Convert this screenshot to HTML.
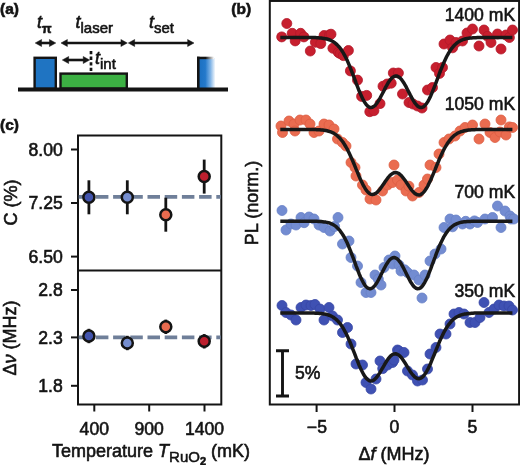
<!DOCTYPE html><html><head><meta charset="utf-8"><title>figure</title><style>html,body{margin:0;padding:0;background:#fff}svg{display:block}text{font-family:"Liberation Sans",sans-serif;fill:#141414;stroke:#141414;stroke-width:0.6px}</style></head><body>
<svg width="520" height="465" viewBox="0 0 520 465">
<defs><linearGradient id="fade" x1="0" x2="1" y1="0" y2="0"><stop offset="0" stop-color="#1b6fc0"/><stop offset="0.4" stop-color="#2479cb"/><stop offset="0.7" stop-color="#7fb3e6"/><stop offset="1" stop-color="#ffffff"/></linearGradient><linearGradient id="fadek" x1="0" x2="1" y1="0" y2="0"><stop offset="0" stop-color="#141414"/><stop offset="0.5" stop-color="#141414"/><stop offset="1" stop-color="#fff"/></linearGradient></defs>
<rect width="520" height="465" fill="#fff"/>
<g id="pa">
<text x="0" y="13.5" font-size="15.5" font-weight="bold" stroke-width="0.2">(a)</text>
<rect x="34.6" y="57.8" width="21.2" height="31" fill="#1f74c2" stroke="#141414" stroke-width="2.4"/>
<rect x="60.5" y="73.6" width="66.3" height="15" fill="#3cb043" stroke="#141414" stroke-width="2.4"/>
<rect x="198.5" y="58" width="17" height="30" fill="url(#fade)"/>
<rect x="197" y="56.7" width="2.6" height="31.5" fill="#141414"/>
<rect x="197" y="56.7" width="17" height="2.5" fill="url(#fadek)"/>
<rect x="18" y="87.5" width="210" height="4" fill="#141414"/>
<line x1="39.040000000000006" y1="43" x2="51.959999999999994" y2="43" stroke="#141414" stroke-width="2.6"/>
<path d="M35.2,43 L41.6,39.5 L41.408,43 L41.6,46.5 Z M55.8,43 L49.4,39.5 L49.592,43 L49.4,46.5 Z" fill="#141414" stroke="#141414" stroke-width="0.5" stroke-linejoin="round"/>
<line x1="64.84" y1="43" x2="123.46" y2="43" stroke="#141414" stroke-width="2.6"/>
<path d="M61,43 L67.4,39.5 L67.208,43 L67.4,46.5 Z M127.3,43 L120.89999999999999,39.5 L121.092,43 L120.89999999999999,46.5 Z" fill="#141414" stroke="#141414" stroke-width="0.5" stroke-linejoin="round"/>
<line x1="132.14000000000001" y1="43" x2="190.16" y2="43" stroke="#141414" stroke-width="2.6"/>
<path d="M128.3,43 L134.70000000000002,39.5 L134.508,43 L134.70000000000002,46.5 Z M194,43 L187.6,39.5 L187.792,43 L187.6,46.5 Z" fill="#141414" stroke="#141414" stroke-width="0.5" stroke-linejoin="round"/>
<line x1="66.14" y1="60" x2="85.75999999999999" y2="60" stroke="#141414" stroke-width="2.6"/>
<path d="M62.3,60 L68.7,56.5 L68.508,60 L68.7,63.5 Z M89.6,60 L83.19999999999999,56.5 L83.392,60 L83.19999999999999,63.5 Z" fill="#141414" stroke="#141414" stroke-width="0.5" stroke-linejoin="round"/>
<line x1="91" y1="51" x2="91" y2="72.5" stroke="#141414" stroke-width="2.7" stroke-dasharray="3.3,2.3"/>
<text x="37" y="28" font-size="18"><tspan font-style="italic">t</tspan><tspan font-size="15" dy="5"><tspan font-weight="bold" font-size="12.5">π</tspan></tspan></text>
<text x="75.5" y="28" font-size="18"><tspan font-style="italic">t</tspan><tspan font-size="15" dy="5">laser</tspan></text>
<text x="149" y="28" font-size="18"><tspan font-style="italic">t</tspan><tspan font-size="15" dy="5">set</tspan></text>
<text x="95" y="64" font-size="18"><tspan font-style="italic">t</tspan><tspan font-size="15" dy="5">int</tspan></text>
</g>
<g id="pc">
<text x="0" y="129.5" font-size="15.5" font-weight="bold" stroke-width="0.2">(c)</text>
<rect x="78" y="135.5" width="143.3" height="269.0" fill="none" stroke="#141414" stroke-width="2.0"/>
<line x1="78" x2="221.3" y1="270.5" y2="270.5" stroke="#141414" stroke-width="2.0"/>
<line x1="71" x2="78" y1="149.5" y2="149.5" stroke="#141414" stroke-width="2.0"/>
<text x="62.8" y="155.7" font-size="17.6" text-anchor="end">8.00</text>
<line x1="71" x2="78" y1="203" y2="203" stroke="#141414" stroke-width="2.0"/>
<text x="62.8" y="209.2" font-size="17.6" text-anchor="end">7.25</text>
<line x1="71" x2="78" y1="256.6" y2="256.6" stroke="#141414" stroke-width="2.0"/>
<text x="62.8" y="262.8" font-size="17.6" text-anchor="end">6.50</text>
<line x1="71" x2="78" y1="290" y2="290" stroke="#141414" stroke-width="2.0"/>
<text x="62.8" y="296.2" font-size="17.6" text-anchor="end">2.8</text>
<line x1="71" x2="78" y1="337.4" y2="337.4" stroke="#141414" stroke-width="2.0"/>
<text x="62.8" y="343.59999999999997" font-size="17.6" text-anchor="end">2.3</text>
<line x1="71" x2="78" y1="385.8" y2="385.8" stroke="#141414" stroke-width="2.0"/>
<text x="62.8" y="392.0" font-size="17.6" text-anchor="end">1.8</text>
<line x1="94.3" x2="94.3" y1="404.5" y2="411.5" stroke="#141414" stroke-width="2.0"/>
<text x="94.3" y="434.5" font-size="17.6" text-anchor="middle">400</text>
<line x1="149.2" x2="149.2" y1="404.5" y2="411.5" stroke="#141414" stroke-width="2.0"/>
<text x="149.2" y="434.5" font-size="17.6" text-anchor="middle">900</text>
<line x1="204.5" x2="204.5" y1="404.5" y2="411.5" stroke="#141414" stroke-width="2.0"/>
<text x="204.5" y="434.5" font-size="17.6" text-anchor="middle">1400</text>
<line x1="78.7" x2="220.8" y1="196.8" y2="196.8" stroke="#6f7f99" stroke-width="3.7" stroke-dasharray="12.5,4.7"/>
<line x1="78.7" x2="220.8" y1="337.4" y2="337.4" stroke="#6f7f99" stroke-width="3.7" stroke-dasharray="12.5,4.7"/>
<line x1="88.9" x2="88.9" y1="180.3" y2="214.3" stroke="#141414" stroke-width="2.8"/>
<circle cx="88.9" cy="197.3" r="5.5" fill="#4254ad" stroke="#141414" stroke-width="2.5"/>
<line x1="127.3" x2="127.3" y1="180.3" y2="214.3" stroke="#141414" stroke-width="2.8"/>
<circle cx="127.3" cy="197.3" r="5.5" fill="#768ecf" stroke="#141414" stroke-width="2.5"/>
<line x1="165.8" x2="165.8" y1="197.7" y2="231.7" stroke="#141414" stroke-width="2.8"/>
<circle cx="165.8" cy="214.7" r="5.5" fill="#e96b4f" stroke="#141414" stroke-width="2.5"/>
<line x1="204.2" x2="204.2" y1="159.6" y2="193.6" stroke="#141414" stroke-width="2.8"/>
<circle cx="204.2" cy="176.6" r="5.5" fill="#bd1f2e" stroke="#141414" stroke-width="2.5"/>
<line x1="88.9" x2="88.9" y1="328.8" y2="343.2" stroke="#141414" stroke-width="2.8"/>
<circle cx="88.9" cy="336" r="5.5" fill="#4254ad" stroke="#141414" stroke-width="2.5"/>
<line x1="127.3" x2="127.3" y1="335.8" y2="350.2" stroke="#141414" stroke-width="2.8"/>
<circle cx="127.3" cy="343" r="5.5" fill="#768ecf" stroke="#141414" stroke-width="2.5"/>
<line x1="165.8" x2="165.8" y1="319.6" y2="334.0" stroke="#141414" stroke-width="2.8"/>
<circle cx="165.8" cy="326.8" r="5.5" fill="#e96b4f" stroke="#141414" stroke-width="2.5"/>
<line x1="204.2" x2="204.2" y1="334.1" y2="348.5" stroke="#141414" stroke-width="2.8"/>
<circle cx="204.2" cy="341.3" r="5.5" fill="#bd1f2e" stroke="#141414" stroke-width="2.5"/>
<text transform="translate(17,202.6) rotate(-90)" font-size="18" text-anchor="middle">C (%)</text>
<text transform="translate(16,338) rotate(-90)" font-size="18" text-anchor="middle">Δ<tspan font-style="italic">ν</tspan> (MHz)</text>
<text x="52" y="457" font-size="18">Temperature <tspan font-style="italic">T</tspan><tspan font-size="15" dy="5" stroke-width="0.5">RuO</tspan><tspan font-size="11" dy="3" font-weight="bold">2</tspan><tspan dy="-8" font-size="18"> (mK)</tspan></text>
</g>
<g id="pb">
<text x="231.3" y="13.5" font-size="15.5" font-weight="bold" stroke-width="0.2">(b)</text>
<g fill="#c71f2e" stroke="#b3182a" stroke-width="0.8">
<circle cx="281.7" cy="36.9" r="5"/>
<circle cx="286.8" cy="23.5" r="5"/>
<circle cx="292.2" cy="33.3" r="5"/>
<circle cx="295.2" cy="40.9" r="5"/>
<circle cx="300.6" cy="33.3" r="5"/>
<circle cx="303.9" cy="36.9" r="5"/>
<circle cx="310.3" cy="51.0" r="5"/>
<circle cx="315.4" cy="42.3" r="5"/>
<circle cx="320.8" cy="43.6" r="5"/>
<circle cx="324.1" cy="35.5" r="5"/>
<circle cx="329.5" cy="34.9" r="5"/>
<circle cx="331.0" cy="34.2" r="5"/>
<circle cx="332.9" cy="48.3" r="5"/>
<circle cx="338.3" cy="52.4" r="5"/>
<circle cx="340.2" cy="53.6" r="5"/>
<circle cx="343.4" cy="55.6" r="5"/>
<circle cx="348.4" cy="50.5" r="5"/>
<circle cx="350.4" cy="70.9" r="5"/>
<circle cx="357.5" cy="80.1" r="5"/>
<circle cx="361.6" cy="96.4" r="5"/>
<circle cx="366.7" cy="95.4" r="5"/>
<circle cx="369.8" cy="111.7" r="5"/>
<circle cx="373.9" cy="110.7" r="5"/>
<circle cx="380.0" cy="103.6" r="5"/>
<circle cx="383.0" cy="86.2" r="5"/>
<circle cx="387.1" cy="84.0" r="5"/>
<circle cx="391.2" cy="83.2" r="5"/>
<circle cx="393.3" cy="73.0" r="5"/>
<circle cx="398.4" cy="73.0" r="5"/>
<circle cx="402.5" cy="94.0" r="5"/>
<circle cx="409.0" cy="102.5" r="5"/>
<circle cx="413.0" cy="104.0" r="5"/>
<circle cx="417.5" cy="106.0" r="5"/>
<circle cx="422.0" cy="108.0" r="5"/>
<circle cx="427.5" cy="90.0" r="5"/>
<circle cx="432.5" cy="87.5" r="5"/>
<circle cx="436.0" cy="67.5" r="5"/>
<circle cx="439.5" cy="73.4" r="5"/>
<circle cx="442.5" cy="67.5" r="5"/>
<circle cx="444.0" cy="44.0" r="5"/>
<circle cx="450.0" cy="40.0" r="5"/>
<circle cx="452.6" cy="47.8" r="5"/>
<circle cx="456.0" cy="42.5" r="5"/>
<circle cx="462.5" cy="41.0" r="5"/>
<circle cx="467.0" cy="33.0" r="5"/>
<circle cx="472.5" cy="29.0" r="5"/>
<circle cx="479.0" cy="46.0" r="5"/>
<circle cx="484.0" cy="30.0" r="5"/>
<circle cx="487.6" cy="36.3" r="5"/>
<circle cx="491.0" cy="42.5" r="5"/>
<circle cx="497.5" cy="34.0" r="5"/>
<circle cx="501.0" cy="49.0" r="5"/>
<circle cx="506.0" cy="35.0" r="5"/>
<circle cx="509.4" cy="37.5" r="5"/>
<circle cx="512.5" cy="30.0" r="5"/>
</g>
<path d="M280.3,37.5 L281.8,37.5 L283.2,37.5 L284.7,37.5 L286.1,37.5 L287.6,37.5 L289.1,37.5 L290.5,37.5 L292.0,37.5 L293.4,37.5 L294.9,37.5 L296.4,37.5 L297.8,37.5 L299.3,37.5 L300.7,37.5 L302.2,37.5 L303.7,37.5 L305.1,37.5 L306.6,37.5 L308.0,37.5 L309.5,37.5 L311.0,37.6 L312.4,37.6 L313.9,37.6 L315.3,37.6 L316.8,37.7 L318.3,37.8 L319.7,37.9 L321.2,38.0 L322.6,38.2 L324.1,38.4 L325.6,38.7 L327.0,39.0 L328.5,39.5 L329.9,40.0 L331.4,40.7 L332.9,41.5 L334.3,42.4 L335.8,43.6 L337.2,44.9 L338.7,46.5 L340.2,48.2 L341.6,50.3 L343.1,52.6 L344.5,55.2 L346.0,58.0 L347.5,61.1 L348.9,64.4 L350.4,68.0 L351.8,71.7 L353.3,75.5 L354.8,79.4 L356.2,83.3 L357.7,87.1 L359.1,90.8 L360.6,94.3 L362.1,97.5 L363.5,100.4 L365.0,102.8 L366.4,104.8 L367.9,106.3 L369.4,107.2 L370.8,107.5 L372.3,107.3 L373.7,106.5 L375.2,105.3 L376.7,103.5 L378.1,101.4 L379.6,99.0 L381.0,96.3 L382.5,93.5 L384.0,90.6 L385.4,87.7 L386.9,85.1 L388.3,82.6 L389.8,80.4 L391.3,78.6 L392.7,77.3 L394.2,76.4 L395.6,76.0 L397.1,76.1 L398.6,76.8 L400.0,77.9 L401.5,79.5 L402.9,81.5 L404.4,83.8 L405.9,86.4 L407.3,89.2 L408.8,92.1 L410.2,94.9 L411.7,97.7 L413.2,100.3 L414.6,102.6 L416.1,104.5 L417.5,106.0 L419.0,107.0 L420.5,107.5 L421.9,107.4 L423.4,106.8 L424.8,105.6 L426.3,103.9 L427.8,101.6 L429.2,99.0 L430.7,95.9 L432.1,92.6 L433.6,88.9 L435.1,85.2 L436.5,81.3 L438.0,77.4 L439.4,73.5 L440.9,69.7 L442.4,66.1 L443.8,62.7 L445.3,59.5 L446.7,56.5 L448.2,53.8 L449.7,51.4 L451.1,49.2 L452.6,47.3 L454.0,45.6 L455.5,44.2 L457.0,42.9 L458.4,41.9 L459.9,41.0 L461.3,40.3 L462.8,39.7 L464.3,39.2 L465.7,38.8 L467.2,38.5 L468.6,38.3 L470.1,38.1 L471.6,37.9 L473.0,37.8 L474.5,37.7 L475.9,37.7 L477.4,37.6 L478.9,37.6 L480.3,37.6 L481.8,37.5 L483.2,37.5 L484.7,37.5 L486.2,37.5 L487.6,37.5 L489.1,37.5 L490.5,37.5 L492.0,37.5 L493.5,37.5 L494.9,37.5 L496.4,37.5 L497.8,37.5 L499.3,37.5 L500.8,37.5 L502.2,37.5 L503.7,37.5 L505.1,37.5 L506.6,37.5 L508.1,37.5 L509.5,37.5 L511.0,37.5 L512.4,37.5" fill="none" stroke="#181818" stroke-width="3.5" stroke-linecap="butt" stroke-linejoin="round"/>
<text x="515.2" y="21.3" font-size="17.6" text-anchor="end">1400 mK</text>
<g fill="#ea6c50" stroke="#dc5d43" stroke-width="0.8">
<circle cx="281.0" cy="126.0" r="5"/>
<circle cx="282.5" cy="132.5" r="5"/>
<circle cx="289.0" cy="121.0" r="5"/>
<circle cx="294.0" cy="124.0" r="5"/>
<circle cx="295.0" cy="131.0" r="5"/>
<circle cx="300.0" cy="120.0" r="5"/>
<circle cx="306.0" cy="120.0" r="5"/>
<circle cx="310.0" cy="124.0" r="5"/>
<circle cx="314.0" cy="132.5" r="5"/>
<circle cx="319.0" cy="131.0" r="5"/>
<circle cx="324.0" cy="124.0" r="5"/>
<circle cx="329.0" cy="125.0" r="5"/>
<circle cx="334.0" cy="129.0" r="5"/>
<circle cx="337.5" cy="139.0" r="5"/>
<circle cx="342.5" cy="142.5" r="5"/>
<circle cx="346.0" cy="146.0" r="5"/>
<circle cx="351.0" cy="162.5" r="5"/>
<circle cx="355.0" cy="167.5" r="5"/>
<circle cx="356.0" cy="176.0" r="5"/>
<circle cx="362.5" cy="185.0" r="5"/>
<circle cx="366.0" cy="190.0" r="5"/>
<circle cx="370.0" cy="199.0" r="5"/>
<circle cx="376.0" cy="200.0" r="5"/>
<circle cx="382.5" cy="191.0" r="5"/>
<circle cx="387.5" cy="185.0" r="5"/>
<circle cx="392.5" cy="182.5" r="5"/>
<circle cx="394.0" cy="165.0" r="5"/>
<circle cx="397.5" cy="180.0" r="5"/>
<circle cx="401.0" cy="185.0" r="5"/>
<circle cx="406.0" cy="191.0" r="5"/>
<circle cx="408.9" cy="186.2" r="5"/>
<circle cx="412.5" cy="196.0" r="5"/>
<circle cx="419.0" cy="192.5" r="5"/>
<circle cx="424.0" cy="185.0" r="5"/>
<circle cx="427.5" cy="179.0" r="5"/>
<circle cx="430.0" cy="165.0" r="5"/>
<circle cx="436.0" cy="167.5" r="5"/>
<circle cx="439.0" cy="154.0" r="5"/>
<circle cx="444.0" cy="142.5" r="5"/>
<circle cx="449.0" cy="139.0" r="5"/>
<circle cx="455.0" cy="136.0" r="5"/>
<circle cx="460.0" cy="131.0" r="5"/>
<circle cx="465.0" cy="127.5" r="5"/>
<circle cx="472.5" cy="125.0" r="5"/>
<circle cx="479.0" cy="139.0" r="5"/>
<circle cx="485.0" cy="124.0" r="5"/>
<circle cx="490.0" cy="132.5" r="5"/>
<circle cx="495.0" cy="137.5" r="5"/>
<circle cx="500.0" cy="132.0" r="5"/>
<circle cx="501.0" cy="120.0" r="5"/>
<circle cx="506.0" cy="135.0" r="5"/>
<circle cx="509.4" cy="126.9" r="5"/>
<circle cx="512.5" cy="127.5" r="5"/>
</g>
<path d="M280.3,129.5 L281.8,129.5 L283.2,129.5 L284.7,129.5 L286.1,129.5 L287.6,129.5 L289.1,129.5 L290.5,129.5 L292.0,129.5 L293.4,129.5 L294.9,129.5 L296.4,129.5 L297.8,129.5 L299.3,129.5 L300.7,129.5 L302.2,129.5 L303.7,129.5 L305.1,129.5 L306.6,129.5 L308.0,129.5 L309.5,129.5 L311.0,129.5 L312.4,129.6 L313.9,129.6 L315.3,129.6 L316.8,129.7 L318.3,129.7 L319.7,129.8 L321.2,129.9 L322.6,130.1 L324.1,130.3 L325.6,130.5 L327.0,130.8 L328.5,131.2 L329.9,131.6 L331.4,132.2 L332.9,132.8 L334.3,133.6 L335.8,134.6 L337.2,135.7 L338.7,137.1 L340.2,138.6 L341.6,140.3 L343.1,142.3 L344.5,144.5 L346.0,147.0 L347.5,149.7 L348.9,152.6 L350.4,155.7 L351.8,158.9 L353.3,162.3 L354.8,165.9 L356.2,169.4 L357.7,172.9 L359.1,176.4 L360.6,179.7 L362.1,182.8 L363.5,185.7 L365.0,188.2 L366.4,190.4 L367.9,192.1 L369.4,193.4 L370.8,194.2 L372.3,194.5 L373.7,194.3 L375.2,193.7 L376.7,192.7 L378.1,191.3 L379.6,189.6 L381.0,187.7 L382.5,185.6 L384.0,183.4 L385.4,181.3 L386.9,179.2 L388.3,177.3 L389.8,175.6 L391.3,174.3 L392.7,173.3 L394.2,172.7 L395.6,172.5 L397.1,172.8 L398.6,173.4 L400.0,174.5 L401.5,175.9 L402.9,177.6 L404.4,179.5 L405.9,181.6 L407.3,183.8 L408.8,186.0 L410.2,188.1 L411.7,190.1 L413.2,191.8 L414.6,193.2 L416.1,194.2 L417.5,194.8 L419.0,195.0 L420.5,194.7 L421.9,193.8 L423.4,192.5 L424.8,190.8 L426.3,188.6 L427.8,186.0 L429.2,183.1 L430.7,180.0 L432.1,176.6 L433.6,173.1 L435.1,169.6 L436.5,166.0 L438.0,162.5 L439.4,159.0 L440.9,155.8 L442.4,152.6 L443.8,149.7 L445.3,147.0 L446.7,144.6 L448.2,142.3 L449.7,140.4 L451.1,138.6 L452.6,137.1 L454.0,135.7 L455.5,134.6 L457.0,133.6 L458.4,132.8 L459.9,132.2 L461.3,131.6 L462.8,131.2 L464.3,130.8 L465.7,130.5 L467.2,130.3 L468.6,130.1 L470.1,129.9 L471.6,129.8 L473.0,129.7 L474.5,129.7 L475.9,129.6 L477.4,129.6 L478.9,129.6 L480.3,129.5 L481.8,129.5 L483.2,129.5 L484.7,129.5 L486.2,129.5 L487.6,129.5 L489.1,129.5 L490.5,129.5 L492.0,129.5 L493.5,129.5 L494.9,129.5 L496.4,129.5 L497.8,129.5 L499.3,129.5 L500.8,129.5 L502.2,129.5 L503.7,129.5 L505.1,129.5 L506.6,129.5 L508.1,129.5 L509.5,129.5 L511.0,129.5 L512.4,129.5" fill="none" stroke="#181818" stroke-width="3.5" stroke-linecap="butt" stroke-linejoin="round"/>
<text x="515.2" y="110" font-size="17.6" text-anchor="end">1050 mK</text>
<g fill="#738cd1" stroke="#6780c6" stroke-width="0.8">
<circle cx="282.0" cy="210.5" r="5"/>
<circle cx="286.0" cy="230.0" r="5"/>
<circle cx="291.0" cy="224.0" r="5"/>
<circle cx="296.0" cy="225.0" r="5"/>
<circle cx="301.0" cy="217.5" r="5"/>
<circle cx="304.1" cy="222.7" r="5"/>
<circle cx="309.0" cy="217.0" r="5"/>
<circle cx="314.0" cy="219.0" r="5"/>
<circle cx="319.0" cy="225.0" r="5"/>
<circle cx="324.0" cy="227.5" r="5"/>
<circle cx="330.0" cy="231.0" r="5"/>
<circle cx="334.6" cy="226.5" r="5"/>
<circle cx="338.0" cy="217.5" r="5"/>
<circle cx="342.5" cy="244.0" r="5"/>
<circle cx="349.0" cy="241.0" r="5"/>
<circle cx="351.0" cy="257.5" r="5"/>
<circle cx="357.5" cy="266.0" r="5"/>
<circle cx="361.0" cy="282.5" r="5"/>
<circle cx="366.0" cy="292.5" r="5"/>
<circle cx="371.0" cy="292.5" r="5"/>
<circle cx="375.0" cy="275.0" r="5"/>
<circle cx="378.3" cy="279.1" r="5"/>
<circle cx="381.0" cy="285.0" r="5"/>
<circle cx="384.0" cy="267.5" r="5"/>
<circle cx="389.0" cy="260.0" r="5"/>
<circle cx="392.5" cy="264.0" r="5"/>
<circle cx="395.0" cy="256.0" r="5"/>
<circle cx="399.0" cy="265.0" r="5"/>
<circle cx="401.0" cy="271.0" r="5"/>
<circle cx="404.6" cy="269.8" r="5"/>
<circle cx="407.5" cy="272.5" r="5"/>
<circle cx="414.0" cy="275.0" r="5"/>
<circle cx="419.0" cy="280.0" r="5"/>
<circle cx="422.0" cy="298.0" r="5"/>
<circle cx="425.0" cy="275.0" r="5"/>
<circle cx="430.0" cy="261.0" r="5"/>
<circle cx="435.0" cy="254.0" r="5"/>
<circle cx="441.0" cy="249.0" r="5"/>
<circle cx="444.0" cy="227.5" r="5"/>
<circle cx="450.0" cy="219.0" r="5"/>
<circle cx="452.6" cy="226.8" r="5"/>
<circle cx="456.0" cy="220.0" r="5"/>
<circle cx="462.5" cy="224.0" r="5"/>
<circle cx="465.7" cy="221.3" r="5"/>
<circle cx="470.0" cy="224.0" r="5"/>
<circle cx="474.5" cy="220.9" r="5"/>
<circle cx="477.5" cy="222.5" r="5"/>
<circle cx="485.0" cy="219.0" r="5"/>
<circle cx="492.5" cy="217.5" r="5"/>
<circle cx="497.5" cy="206.0" r="5"/>
<circle cx="501.0" cy="227.5" r="5"/>
<circle cx="505.0" cy="211.0" r="5"/>
<circle cx="510.0" cy="216.0" r="5"/>
<circle cx="511.0" cy="219.0" r="5"/>
<circle cx="513.8" cy="219.0" r="5"/>
</g>
<path d="M280.3,221.2 L281.8,221.2 L283.2,221.2 L284.7,221.2 L286.1,221.2 L287.6,221.2 L289.1,221.2 L290.5,221.2 L292.0,221.2 L293.4,221.2 L294.9,221.2 L296.4,221.2 L297.8,221.2 L299.3,221.2 L300.7,221.2 L302.2,221.2 L303.7,221.2 L305.1,221.2 L306.6,221.2 L308.0,221.2 L309.5,221.2 L311.0,221.2 L312.4,221.2 L313.9,221.3 L315.3,221.3 L316.8,221.3 L318.3,221.4 L319.7,221.5 L321.2,221.6 L322.6,221.7 L324.1,221.9 L325.6,222.1 L327.0,222.4 L328.5,222.7 L329.9,223.2 L331.4,223.8 L332.9,224.5 L334.3,225.4 L335.8,226.4 L337.2,227.7 L338.7,229.2 L340.2,230.9 L341.6,232.9 L343.1,235.2 L344.5,237.7 L346.0,240.5 L347.5,243.6 L348.9,247.0 L350.4,250.6 L351.8,254.3 L353.3,258.2 L354.8,262.2 L356.2,266.1 L357.7,270.0 L359.1,273.7 L360.6,277.2 L362.1,280.3 L363.5,283.0 L365.0,285.3 L366.4,287.0 L367.9,288.2 L369.4,288.7 L370.8,288.7 L372.3,288.0 L373.7,286.8 L375.2,285.1 L376.7,283.0 L378.1,280.5 L379.6,277.7 L381.0,274.8 L382.5,271.8 L384.0,268.9 L385.4,266.2 L386.9,263.7 L388.3,261.5 L389.8,259.7 L391.3,258.5 L392.7,257.7 L394.2,257.5 L395.6,257.9 L397.1,258.8 L398.6,260.2 L400.0,262.1 L401.5,264.3 L402.9,266.9 L404.4,269.8 L405.9,272.7 L407.3,275.7 L408.8,278.5 L410.2,281.2 L411.7,283.6 L413.2,285.7 L414.6,287.2 L416.1,288.3 L417.5,288.7 L419.0,288.6 L420.5,287.9 L421.9,286.6 L423.4,284.7 L424.8,282.3 L426.3,279.4 L427.8,276.2 L429.2,272.7 L430.7,268.9 L432.1,265.0 L433.6,261.0 L435.1,257.1 L436.5,253.2 L438.0,249.5 L439.4,246.0 L440.9,242.7 L442.4,239.7 L443.8,236.9 L445.3,234.5 L446.7,232.3 L448.2,230.4 L449.7,228.7 L451.1,227.3 L452.6,226.1 L454.0,225.1 L455.5,224.3 L457.0,223.6 L458.4,223.1 L459.9,222.6 L461.3,222.3 L462.8,222.0 L464.3,221.8 L465.7,221.7 L467.2,221.5 L468.6,221.4 L470.1,221.4 L471.6,221.3 L473.0,221.3 L474.5,221.3 L475.9,221.2 L477.4,221.2 L478.9,221.2 L480.3,221.2 L481.8,221.2 L483.2,221.2 L484.7,221.2 L486.2,221.2 L487.6,221.2 L489.1,221.2 L490.5,221.2 L492.0,221.2 L493.5,221.2 L494.9,221.2 L496.4,221.2 L497.8,221.2 L499.3,221.2 L500.8,221.2 L502.2,221.2 L503.7,221.2 L505.1,221.2 L506.6,221.2 L508.1,221.2 L509.5,221.2 L511.0,221.2 L512.4,221.2" fill="none" stroke="#181818" stroke-width="3.5" stroke-linecap="butt" stroke-linejoin="round"/>
<text x="515.2" y="198" font-size="17.6" text-anchor="end">700 mK</text>
<g fill="#3f51b3" stroke="#3746a5" stroke-width="0.8">
<circle cx="282.0" cy="305.5" r="5"/>
<circle cx="286.0" cy="312.5" r="5"/>
<circle cx="291.0" cy="315.0" r="5"/>
<circle cx="296.0" cy="320.0" r="5"/>
<circle cx="301.0" cy="307.5" r="5"/>
<circle cx="306.0" cy="305.0" r="5"/>
<circle cx="311.0" cy="305.5" r="5"/>
<circle cx="315.0" cy="304.5" r="5"/>
<circle cx="320.0" cy="309.0" r="5"/>
<circle cx="324.0" cy="320.0" r="5"/>
<circle cx="329.0" cy="307.5" r="5"/>
<circle cx="332.5" cy="316.0" r="5"/>
<circle cx="337.5" cy="320.0" r="5"/>
<circle cx="342.5" cy="332.5" r="5"/>
<circle cx="347.5" cy="327.5" r="5"/>
<circle cx="351.0" cy="344.0" r="5"/>
<circle cx="356.0" cy="364.0" r="5"/>
<circle cx="362.5" cy="365.0" r="5"/>
<circle cx="366.0" cy="382.5" r="5"/>
<circle cx="371.0" cy="389.0" r="5"/>
<circle cx="376.0" cy="379.0" r="5"/>
<circle cx="380.0" cy="361.0" r="5"/>
<circle cx="382.7" cy="368.6" r="5"/>
<circle cx="387.5" cy="365.0" r="5"/>
<circle cx="392.5" cy="362.5" r="5"/>
<circle cx="394.0" cy="360.0" r="5"/>
<circle cx="397.5" cy="350.0" r="5"/>
<circle cx="399.0" cy="351.0" r="5"/>
<circle cx="404.0" cy="352.5" r="5"/>
<circle cx="407.5" cy="371.0" r="5"/>
<circle cx="412.5" cy="375.0" r="5"/>
<circle cx="417.5" cy="381.0" r="5"/>
<circle cx="422.5" cy="380.0" r="5"/>
<circle cx="427.5" cy="369.0" r="5"/>
<circle cx="430.0" cy="354.0" r="5"/>
<circle cx="436.0" cy="347.5" r="5"/>
<circle cx="440.0" cy="334.0" r="5"/>
<circle cx="446.0" cy="334.0" r="5"/>
<circle cx="450.0" cy="324.0" r="5"/>
<circle cx="454.0" cy="314.0" r="5"/>
<circle cx="459.0" cy="312.5" r="5"/>
<circle cx="464.0" cy="314.0" r="5"/>
<circle cx="470.0" cy="322.5" r="5"/>
<circle cx="475.0" cy="322.5" r="5"/>
<circle cx="480.0" cy="317.5" r="5"/>
<circle cx="484.0" cy="302.5" r="5"/>
<circle cx="489.0" cy="312.5" r="5"/>
<circle cx="494.0" cy="309.0" r="5"/>
<circle cx="499.0" cy="305.0" r="5"/>
<circle cx="504.0" cy="306.0" r="5"/>
<circle cx="509.0" cy="306.0" r="5"/>
<circle cx="512.5" cy="310.0" r="5"/>
</g>
<path d="M280.3,313.0 L281.8,313.0 L283.2,313.0 L284.7,313.0 L286.1,313.0 L287.6,313.0 L289.1,313.0 L290.5,313.0 L292.0,313.0 L293.4,313.0 L294.9,313.0 L296.4,313.0 L297.8,313.0 L299.3,313.0 L300.7,313.0 L302.2,313.0 L303.7,313.0 L305.1,313.0 L306.6,313.0 L308.0,313.0 L309.5,313.0 L311.0,313.1 L312.4,313.1 L313.9,313.1 L315.3,313.2 L316.8,313.2 L318.3,313.3 L319.7,313.4 L321.2,313.5 L322.6,313.7 L324.1,313.9 L325.6,314.2 L327.0,314.6 L328.5,315.0 L329.9,315.5 L331.4,316.2 L332.9,317.0 L334.3,318.0 L335.8,319.1 L337.2,320.4 L338.7,322.0 L340.2,323.7 L341.6,325.8 L343.1,328.0 L344.5,330.6 L346.0,333.3 L347.5,336.4 L348.9,339.6 L350.4,343.0 L351.8,346.6 L353.3,350.3 L354.8,354.1 L356.2,357.9 L357.7,361.5 L359.1,365.1 L360.6,368.4 L362.1,371.5 L363.5,374.2 L365.0,376.6 L366.4,378.4 L367.9,379.8 L369.4,380.7 L370.8,381.0 L372.3,380.8 L373.7,380.1 L375.2,378.9 L376.7,377.3 L378.1,375.4 L379.6,373.1 L381.0,370.7 L382.5,368.1 L384.0,365.6 L385.4,363.1 L386.9,360.7 L388.3,358.6 L389.8,356.8 L391.3,355.4 L392.7,354.4 L394.2,353.9 L395.6,353.8 L397.1,354.2 L398.6,355.0 L400.0,356.2 L401.5,357.8 L402.9,359.8 L404.4,362.0 L405.9,364.3 L407.3,366.7 L408.8,369.1 L410.2,371.4 L411.7,373.5 L413.2,375.3 L414.6,376.8 L416.1,377.9 L417.5,378.6 L419.0,378.7 L420.5,378.4 L421.9,377.5 L423.4,376.1 L424.8,374.3 L426.3,372.0 L427.8,369.4 L429.2,366.4 L430.7,363.2 L432.1,359.7 L433.6,356.1 L435.1,352.5 L436.5,348.9 L438.0,345.3 L439.4,341.8 L440.9,338.5 L442.4,335.4 L443.8,332.5 L445.3,329.8 L446.7,327.4 L448.2,325.2 L449.7,323.3 L451.1,321.6 L452.6,320.1 L454.0,318.8 L455.5,317.7 L457.0,316.8 L458.4,316.1 L459.9,315.4 L461.3,314.9 L462.8,314.5 L464.3,314.1 L465.7,313.9 L467.2,313.7 L468.6,313.5 L470.1,313.4 L471.6,313.3 L473.0,313.2 L474.5,313.1 L475.9,313.1 L477.4,313.1 L478.9,313.1 L480.3,313.0 L481.8,313.0 L483.2,313.0 L484.7,313.0 L486.2,313.0 L487.6,313.0 L489.1,313.0 L490.5,313.0 L492.0,313.0 L493.5,313.0 L494.9,313.0 L496.4,313.0 L497.8,313.0 L499.3,313.0 L500.8,313.0 L502.2,313.0 L503.7,313.0 L505.1,313.0 L506.6,313.0 L508.1,313.0 L509.5,313.0 L511.0,313.0 L512.4,313.0" fill="none" stroke="#181818" stroke-width="3.5" stroke-linecap="butt" stroke-linejoin="round"/>
<text x="515.2" y="296.5" font-size="17.6" text-anchor="end">350 mK</text>
<rect x="269.8" y="0.95" width="249.3" height="403.55" fill="none" stroke="#141414" stroke-width="2.0"/>
<line x1="316.6" x2="316.6" y1="404.5" y2="412.0" stroke="#141414" stroke-width="2.0"/>
<text x="316.90000000000003" y="433.0" font-size="17.6" text-anchor="middle">−5</text>
<line x1="394.5" x2="394.5" y1="404.5" y2="412.0" stroke="#141414" stroke-width="2.0"/>
<text x="394.5" y="433.0" font-size="17.6" text-anchor="middle">0</text>
<line x1="472.5" x2="472.5" y1="404.5" y2="412.0" stroke="#141414" stroke-width="2.0"/>
<text x="472.5" y="433.0" font-size="17.6" text-anchor="middle">5</text>
<path d="M282.5,350.5 V396 M276,350.8 H289 M276,396 H289" stroke="#141414" stroke-width="2.9" fill="none"/>
<text x="295" y="378.5" font-size="17.6" stroke-width="0.9">5%</text>
<text transform="translate(258,203) rotate(-90)" font-size="18" text-anchor="middle">PL (norm.)</text>
<text x="394" y="459.5" font-size="18" text-anchor="middle">Δ<tspan font-style="italic">f</tspan> (MHz)</text>
</g>
</svg></body></html>
